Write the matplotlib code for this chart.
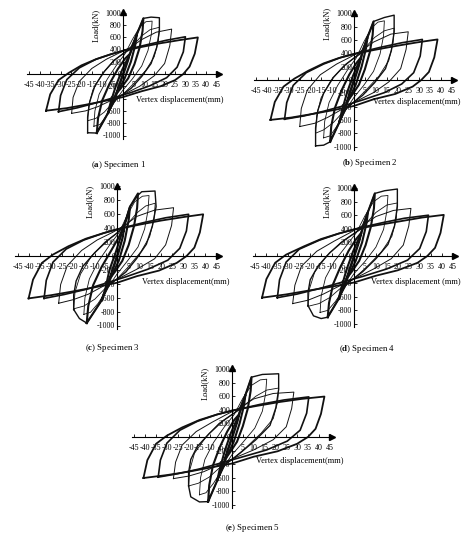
import matplotlib
matplotlib.use("Agg")
import matplotlib.pyplot as plt

plt.rcParams['font.family'] = ['Liberation Serif', 'DejaVu Serif']
plt.rcParams['mathtext.fontset'] = 'custom'
plt.rcParams['mathtext.rm'] = 'Liberation Serif'
plt.rcParams['mathtext.bf'] = 'Liberation Serif:bold'

# tick values and labels
x_ticks = [-45, -40, -35, -30, -25, -20, -15, -10, -5, 5, 10, 15, 20, 25, 30, 35, 40, 45]
x_labels = ['-45', '-40', '-35', '-30', '-25', '-20', '-15', '-10', '-5',
            '5', '10', '15', '20', '25', '30', '35', '40', '45']
y_ticks = [-1000, -800, -600, -400, -200, 0, 200, 400, 600, 800, 1000]
y_labels = ['-1000', '-800', '-600', '-400', '-200', '0', '200', '400', '600', '800', '1000']

captions = ['a', 'b', 'c', 'd', 'e']
specimen_names = ['Specimen 1', 'Specimen 2', 'Specimen 3', 'Specimen 4', 'Specimen 5']
x_titles = ['Vertex displacement(mm)', 'Vertex displacement(mm)', 'Vertex displacement(mm)',
            'Vertex displacement (mm)', 'Vertex displacement(mm)']

# hysteresis loops, (displacement mm, load kN)
spec1_loops = [
    [(-3.5, -330), (-2, -170), (0, 20), (2, 200), (3.5, 340), (2.7, 230), (0.8, 40), (-1.2, -150), (-3.5, -330)],
    [(-7.2, -634), (-6, -470), (-3.5, -200), (-0.5, 60), (3.4, 330), (6.6, 640), (5.9, 470), (3.8, 200),
     (0.8, -70), (-3, -320), (-7.2, -634)],
    [(-12.6, -960), (-12, -720), (-10, -430), (-6.5, -160), (-2.5, 80), (1, 250), (3.4, 330), (6.6, 640),
     (9.8, 905), (9.4, 700), (8, 430), (5.5, 160), (2.5, -70), (-1, -230), (-3.5, -330), (-7.2, -634), (-12.6, -960)],
    [(-14, -850), (-13.5, -600), (-11.5, -330), (-7.5, -80), (-3, 150), (1, 330), (4.5, 560), (8, 760), (11, 850),
     (14, 860), (13.6, 640), (12, 380), (9, 130), (4.5, -80), (0, -260), (-4, -450), (-8, -680), (-11, -820),
     (-14, -850)],
    [(-17, -955), (-17, -700), (-16, -450), (-13.5, -190), (-9, 40), (-4, 230), (0, 330), (3.4, 400), (6.6, 640),
     (9.8, 905), (13.5, 925), (17.5, 915), (17.5, 700), (16.2, 430), (13.5, 170), (9, -40), (4, -230), (0, -330),
     (-3.4, -400), (-7.2, -634), (-12.6, -960), (-17, -955)],
    [(-17, -760), (-16.5, -520), (-14.5, -260), (-10, 0), (-5, 200), (0, 330), (5, 470), (9, 620), (13, 720),
     (17.5, 760), (17, 540), (15, 280), (11, 60), (5, -160), (0, -330), (-5, -470), (-9, -620), (-13, -720),
     (-17, -760)],
    [(-24.7, -640), (-24, -380), (-21, -120), (-15, 90), (-8, 240), (-2, 340), (3, 420), (9, 560), (16, 680),
     (23.4, 730), (22.5, 460), (20, 170), (15, -30), (8, -200), (1, -320), (-5, -420), (-12, -530), (-18, -600),
     (-24.7, -640)],
    [(-31, -613), (-30, -350), (-27, -90), (-21, 100), (-13, 240), (-5, 330), (2, 400), (12, 480), (21, 550),
     (30, 605), (29, 360), (26, 110), (21, -60), (13, -190), (4, -300), (-5, -390), (-13, -470), (-22, -550),
     (-31, -613)],
    [(-37, -597), (-35, -330), (-31, -100), (-26, 20), (-20, 140), (-13, 240), (-6, 320), (0, 375), (9, 440),
     (18, 500), (27, 550), (36, 595), (34.5, 330), (32, 120), (29, 0), (25, -100), (18, -200), (9, -280),
     (0, -375), (-9, -440), (-18, -500), (-27, -555), (-37, -597)],
]

spec2_loops = [
    [(-3.5, -340), (-2, -170), (0, 20), (2, 210), (3.5, 350), (2.7, 240), (0.8, 40), (-1.2, -150), (-3.5, -340)],
    [(-6.8, -640), (-5.7, -480), (-3.3, -200), (-0.5, 60), (3.2, 340), (6.2, 640), (5.5, 470), (3.5, 200),
     (0.8, -70), (-2.8, -320), (-6.8, -640)],
    [(-11, -930), (-10.5, -700), (-8.8, -420), (-5.8, -160), (-2.2, 80), (1, 250), (3.2, 340), (6.2, 640),
     (9, 880), (8.6, 680), (7.3, 420), (5, 160), (2.3, -70), (-1, -230), (-3.3, -330), (-6.8, -640), (-11, -930)],
    [(-14, -870), (-13.5, -620), (-11.5, -340), (-7.5, -80), (-3, 150), (1, 330), (4.5, 570), (8, 780), (11, 870),
     (14, 890), (13.6, 660), (12, 390), (9, 130), (4.5, -80), (0, -260), (-4, -460), (-8, -700), (-11, -840),
     (-14, -870)],
    [(-17.7, -990), (-17.7, -720), (-16.7, -460), (-14, -200), (-9.5, 40), (-4, 230), (0, 330), (3.2, 400),
     (6.2, 640), (9, 880), (14, 940), (18.5, 975), (18.5, 720), (17.2, 440), (14.5, 170), (9.5, -40), (4, -230),
     (0, -330), (-3.3, -410), (-6.8, -640), (-11, -930), (-14, -980), (-17.7, -990)],
    [(-17.7, -800), (-17.2, -540), (-15.2, -270), (-10.5, 0), (-5, 200), (0, 330), (5, 480), (9.5, 640),
     (14, 740), (18.5, 780), (18, 560), (16, 290), (11.5, 60), (5, -170), (0, -330), (-5, -480), (-9.5, -640),
     (-14, -750), (-17.7, -800)],
    [(-25, -700), (-24.3, -430), (-21.5, -150), (-15.5, 80), (-8, 240), (-2, 340), (3, 430), (9, 570), (17, 690),
     (25, 725), (24, 460), (21.5, 170), (16, -30), (9, -190), (1, -320), (-5, -430), (-12, -560), (-18, -650),
     (-25, -700)],
    [(-32, -590), (-31, -340), (-28, -80), (-22, 110), (-14, 240), (-6, 340), (2, 410), (12, 490), (22, 560),
     (31.5, 610), (30.5, 360), (27.5, 110), (22, -60), (14, -190), (4, -300), (-5, -390), (-14, -470),
     (-23, -540), (-32, -590)],
    [(-38.5, -600), (-36.5, -330), (-32.5, -100), (-27.5, 20), (-21, 140), (-14, 250), (-7, 330), (0, 390),
     (9, 450), (19, 510), (29, 565), (38.5, 610), (37, 340), (34.5, 120), (31, 0), (27, -100), (19, -210),
     (9, -290), (0, -390), (-9, -450), (-19, -510), (-29, -565), (-38.5, -600)],
]

spec3_loops = [
    [(-3.5, -330), (-2, -170), (0, 20), (2, 220), (3.5, 420), (2.7, 260), (0.8, 40), (-1.2, -150), (-3.5, -330)],
    [(-7, -640), (-5.4, -490), (-3.4, -200), (-0.5, 60), (3.6, 470), (5.9, 710), (5.3, 520), (3.5, 220),
     (0.8, -70), (-2.9, -320), (-7, -640)],
    [(-13.7, -965), (-13, -720), (-10.8, -420), (-7, -160), (-2.6, 80), (1, 280), (3.6, 470), (5.9, 710),
     (9.5, 900), (9.1, 690), (7.7, 430), (5.3, 160), (2.4, -70), (-1, -230), (-3.4, -330), (-7, -640),
     (-13.7, -965)],
    [(-15, -840), (-14.5, -600), (-12.5, -330), (-8.5, -80), (-3.5, 150), (1, 340), (4.5, 580), (8, 780),
     (11.5, 860), (14.5, 870), (14, 650), (12.5, 390), (9.5, 130), (4.5, -80), (0, -260), (-4, -450),
     (-8.5, -680), (-12, -810), (-15, -840)],
    [(-19.6, -770), (-19.6, -560), (-18.5, -360), (-15.5, -150), (-10, 50), (-4, 230), (0, 330), (3.6, 470),
     (5.9, 710), (9, 860), (11.2, 925), (17.2, 935), (17.7, 710), (16, 430), (13.3, 170), (8.8, -40), (4, -230),
     (0, -330), (-3.4, -410), (-7, -640), (-13.7, -965), (-17, -900), (-19.6, -770)],
    [(-19.6, -760), (-19, -520), (-16.5, -260), (-11.5, 0), (-5.5, 200), (0, 330), (5, 470), (9, 620), (13, 720),
     (17.3, 760), (16.8, 540), (14.8, 280), (10.8, 60), (5, -160), (0, -330), (-5.5, -470), (-10, -620),
     (-15, -720), (-19.6, -760)],
    [(-26.4, -680), (-25.5, -410), (-22.5, -140), (-16, 80), (-9, 230), (-2, 340), (3, 430), (9, 570), (17, 660),
     (25.6, 695), (24.7, 440), (22, 160), (17, -40), (9, -190), (1, -320), (-6, -430), (-13, -550), (-20, -630),
     (-26.4, -680)],
    [(-33, -610), (-32, -350), (-29, -90), (-23, 100), (-15, 230), (-6, 330), (2, 400), (12, 480), (22, 550),
     (32.4, 600), (31.4, 360), (28.4, 110), (23, -60), (14, -190), (4, -300), (-5, -390), (-14, -480),
     (-24, -555), (-33, -610)],
    [(-40, -610), (-38, -340), (-34, -100), (-29, 20), (-22, 140), (-14, 250), (-6, 330), (0, 385), (10, 450),
     (20, 510), (30, 560), (39, 600), (37.5, 340), (35, 120), (31.5, 0), (27, -100), (19, -210), (9, -290),
     (0, -385), (-10, -450), (-20, -510), (-30, -565), (-40, -610)],
]

spec4_loops = [
    [(-3.5, -330), (-2, -170), (0, 20), (2, 200), (3.5, 340), (2.7, 230), (0.8, 40), (-1.2, -150), (-3.5, -330)],
    [(-7, -630), (-5.8, -470), (-3.4, -200), (-0.5, 60), (3.3, 340), (6.4, 650), (5.7, 480), (3.7, 200),
     (0.8, -70), (-2.9, -320), (-7, -630)],
    [(-12, -900), (-11.4, -690), (-9.5, -410), (-6.2, -160), (-2.4, 80), (1, 250), (3.3, 340), (6.4, 650),
     (9.5, 920), (9.1, 700), (7.7, 430), (5.3, 160), (2.4, -70), (-1, -230), (-3.4, -330), (-7, -630), (-12, -900)],
    [(-15.5, -830), (-15, -590), (-13, -320), (-9, -80), (-3.5, 150), (1, 340), (5, 590), (9, 800), (12.5, 880),
     (15.5, 890), (15, 660), (13.5, 390), (10, 130), (5, -80), (0, -260), (-4, -450), (-8.5, -670),
     (-12, -800), (-15.5, -830)],
    [(-21, -730), (-21, -540), (-20, -350), (-16.5, -150), (-11, 50), (-4.5, 230), (0, 330), (3.3, 400),
     (6.4, 650), (9.5, 920), (14, 960), (19.8, 985), (19.8, 730), (18.5, 440), (15.5, 170), (10, -40), (4, -230),
     (0, -330), (-3.4, -410), (-7, -630), (-12, -900), (-15, -920), (-18.5, -880), (-21, -730)],
    [(-21, -740), (-20.5, -500), (-18, -240), (-12.5, 0), (-6, 200), (0, 330), (5.5, 480), (10, 640), (15, 750),
     (19.8, 780), (19.3, 550), (17.3, 290), (12.5, 60), (5.5, -170), (0, -330), (-6, -470), (-11, -610),
     (-16, -700), (-21, -740)],
    [(-28, -700), (-27, -430), (-24, -150), (-17, 70), (-9, 220), (-2, 340), (3, 430), (10, 580), (18, 670),
     (26, 700), (25, 440), (22.5, 160), (17, -40), (9, -190), (1, -320), (-6, -430), (-14, -560), (-21, -650),
     (-28, -700)],
    [(-35, -613), (-34, -350), (-31, -90), (-25, 100), (-16, 230), (-7, 330), (2, 410), (13, 490), (23, 555),
     (34, 600), (33, 360), (30, 110), (24.5, -60), (15, -190), (4, -300), (-6, -390), (-16, -480), (-26, -560),
     (-35, -613)],
    [(-42, -613), (-40, -340), (-36, -100), (-31, 20), (-23, 140), (-15, 250), (-7, 330), (0, 390), (10, 450),
     (21, 510), (31, 565), (41, 605), (39.5, 340), (37, 120), (33.5, 0), (29, -100), (20, -210), (10, -290),
     (0, -390), (-10, -450), (-21, -510), (-31, -565), (-42, -613)],
]

spec5_loops = [
    [(-3.5, -330), (-2, -170), (0, 20), (2, 200), (3.5, 340), (2.7, 230), (0.8, 40), (-1.2, -150), (-3.5, -330)],
    [(-6.8, -640), (-5.7, -480), (-3.3, -200), (-0.5, 60), (3.2, 330), (6.2, 620), (5.5, 460), (3.5, 200),
     (0.8, -70), (-2.8, -320), (-6.8, -640)],
    [(-11, -950), (-10.5, -710), (-8.8, -420), (-5.8, -160), (-2.2, 80), (1, 250), (3.2, 330), (6.2, 620),
     (9, 880), (8.6, 680), (7.3, 420), (5, 160), (2.3, -70), (-1, -230), (-3.3, -330), (-6.8, -640), (-11, -950)],
    [(-15, -850), (-14.5, -600), (-12.5, -330), (-8.5, -80), (-3.5, 150), (1, 330), (5, 570), (9, 760),
     (13, 840), (16, 850), (15.5, 640), (14, 380), (10.5, 130), (5, -80), (0, -260), (-4, -450), (-8.5, -680),
     (-12, -820), (-15, -850)],
    [(-20, -720), (-20, -520), (-19, -330), (-16, -140), (-10.5, 50), (-4.5, 230), (0, 330), (3.2, 400),
     (6.2, 620), (9, 880), (14, 920), (21.5, 930), (21.5, 700), (20.2, 430), (17.5, 170), (11, -40), (4, -230),
     (0, -330), (-3.3, -410), (-6.8, -640), (-11, -950), (-15, -955), (-19, -880), (-20, -720)],
    [(-20, -720), (-19.5, -490), (-17.3, -240), (-12, 0), (-6, 200), (0, 330), (6, 470), (11, 600), (16, 690),
     (21.5, 720), (21, 510), (19, 270), (13.5, 60), (6, -170), (0, -330), (-6, -460), (-10.5, -590),
     (-15.5, -680), (-20, -720)],
    [(-27, -612), (-26, -370), (-23, -120), (-16.5, 80), (-9, 220), (-2, 340), (3, 420), (10, 560), (19, 640),
     (28.5, 660), (27.5, 420), (25, 150), (19, -40), (10, -190), (1, -310), (-6, -410), (-13, -510), (-20, -575),
     (-27, -612)],
    [(-34, -590), (-33, -340), (-30, -90), (-24, 100), (-16, 230), (-7, 330), (2, 400), (13, 480), (24, 545),
     (35.4, 590), (34.4, 350), (31.4, 100), (25.5, -60), (16, -190), (4, -300), (-6, -390), (-15, -470),
     (-25, -540), (-34, -590)],
    [(-40.8, -603), (-39, -340), (-35, -100), (-30, 20), (-23, 140), (-15, 250), (-7, 330), (0, 390), (11, 455),
     (22, 515), (32, 560), (42.6, 595), (41, 340), (38.5, 120), (35, 0), (30, -100), (21, -210), (10, -290),
     (0, -390), (-10, -450), (-20, -510), (-30, -560), (-40.8, -603)],
]

all_loops = [spec1_loops, spec2_loops, spec3_loops, spec4_loops, spec5_loops]
loop_widths = [1.0, 1.5, 1.5, 0.6, 1.0, 0.6, 0.7, 1.2, 1.3]

W, H = 474, 535
# pixel position of the origin and pixels per unit for each panel
panel_px = [(123, 2.08, 74, 0.0615), (354, 2.17, 80, 0.0665), (117, 2.21, 256, 0.0695),
            (354, 2.19, 256, 0.068), (232, 2.17, 437, 0.068)]
caption_px = [(119, 165), (370, 163), (112, 348), (367, 349), (252, 528)]
ylabel_y = [797, 857, 790, 809, 794]
xtitle_y = [-423, -326, -374, -387, -353]
xtitle_right = [48.5, 49.3, 50.7, 48.9, 51.6]

fig = plt.figure(figsize=(W / 100, H / 100), dpi=100)
XL, YL = 50, 1200

for i in range(5):
    x0, sx, y0, sy = panel_px[i]
    left = (x0 - XL * sx) / W
    bottom = 1 - (y0 + YL * sy) / H
    ax = fig.add_axes([left, bottom, 2 * XL * sx / W, 2 * YL * sy / H])
    ax.set_xlim(-XL, XL)
    ax.set_ylim(-YL, YL)
    ax.patch.set_alpha(0)

    for loop, lw in zip(all_loops[i], loop_widths):
        xs = [p[0] for p in loop]
        ys = [p[1] for p in loop]
        ax.plot(xs, ys, color='#111111', lw=lw, solid_joinstyle='round')

    for s in ['top', 'right']:
        ax.spines[s].set_visible(False)
    ax.spines['left'].set_position('zero')
    ax.spines['bottom'].set_position('zero')
    ax.spines['left'].set_bounds(-1050, 1000)
    ax.spines['bottom'].set_bounds(-46, 45)
    ax.spines['left'].set_linewidth(0.8)
    ax.spines['bottom'].set_linewidth(0.8)
    ax.plot([46], [0], marker='>', ms=4.5, color='k', clip_on=False)
    ax.plot([0], [1010], marker='^', ms=4.5, color='k', clip_on=False)

    ax.set_xticks(x_ticks)
    ax.set_xticklabels(x_labels)
    ax.set_yticks(y_ticks)
    ax.set_yticklabels(y_labels)
    ax.tick_params(axis='x', direction='in', length=2, width=0.6, pad=5, labelsize=5.8)
    ax.tick_params(axis='y', direction='in', length=2, width=0.6, pad=1.2, labelsize=5.8)

    ax.annotate('Load(kN)', xy=(0, ylabel_y[i]), xytext=(-27, 0), textcoords='offset pixels',
                rotation=90, ha='center', va='center', fontsize=6)
    ax.text(xtitle_right[i], xtitle_y[i], x_titles[i], ha='right', va='center', fontsize=6)

    cx, cy = caption_px[i]
    fig.text(cx / W, 1 - cy / H, r'($\mathbf{%s}$) %s' % (captions[i], specimen_names[i]),
             ha='center', va='center', fontsize=6.3)

fig.savefig('out.png', dpi=100, facecolor='white')
